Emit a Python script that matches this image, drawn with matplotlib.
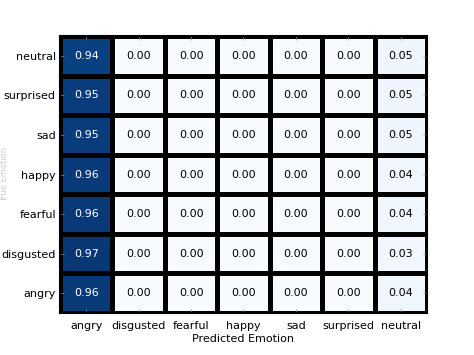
import matplotlib
matplotlib.use("Agg")
import matplotlib.pyplot as plt
import numpy as np

# confusion matrix data (rows top -> bottom)
true_labels = ["neutral", "surprised", "sad", "happy", "fearful", "disgusted", "angry"]
pred_labels = ["angry", "disgusted", "fearful", "happy", "sad", "surprised", "neutral"]
angry_col = [0.94, 0.95, 0.95, 0.96, 0.96, 0.97, 0.96]
neutral_col = [0.05, 0.05, 0.05, 0.04, 0.04, 0.03, 0.04]

n = len(true_labels)
cm = np.zeros((n, n))
cm[:, 0] = angry_col
cm[:, -1] = neutral_col

fig = plt.figure(figsize=(4.74, 3.55), dpi=100)
ax = fig.add_axes([60 / 474, 1 - 313 / 355, (427 - 60) / 474, (313 - 36) / 355])

ax.pcolormesh(np.arange(n + 1), np.arange(n + 1), cm[::-1], cmap="Blues",
              vmin=0, vmax=1.0, edgecolors="black", linewidth=2.2)
ax.set_xlim(0, n)
ax.set_ylim(0, n)

for i in range(n):
    for j in range(n):
        v = cm[::-1][i, j]
        ax.text(j + 0.5, i + 0.5, "%.2f" % v, ha="center", va="center",
                fontsize=8, color="white" if v > 0.5 else "black")

ax.set_xticks(np.arange(n) + 0.5)
ax.set_xticklabels(pred_labels, fontsize=8)
ax.set_yticks(np.arange(n) + 0.5)
ax.set_yticklabels(true_labels[::-1], fontsize=8)
ax.tick_params(direction="in", length=3, width=0.5, top=True, right=True,
               color="#888888", pad=3)
ax.tick_params(axis="x", pad=6)
ax.set_xlabel("Predicted Emotion", fontsize=8, labelpad=2)
ax.set_ylabel("True Emotion", fontsize=6, color="#cccccc")
ax.yaxis.set_label_coords(-0.14, 0.5)
for s in ax.spines.values():
    s.set_linewidth(1.5)

fig.savefig("out.png", dpi=100)
